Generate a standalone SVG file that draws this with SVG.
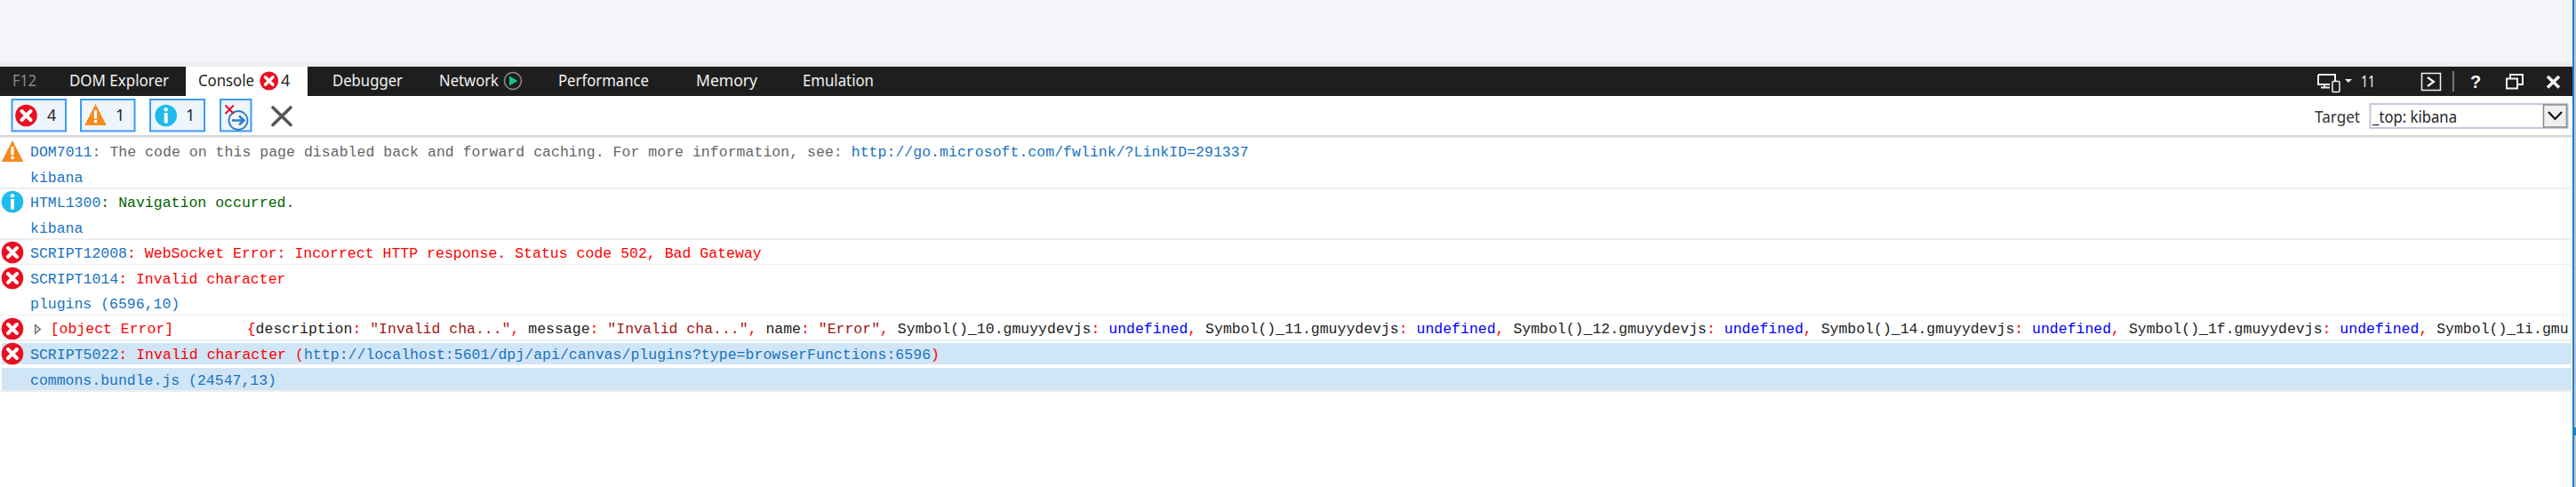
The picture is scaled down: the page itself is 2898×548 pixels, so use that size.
<svg xmlns="http://www.w3.org/2000/svg" width="2898" height="548" viewBox="0 0 2898 548">
<style>
.ui{font-family:"Noto Sans","Open Sans","Liberation Sans",sans-serif;font-size:18px}
.tab{fill:#f2f2f2}
.m{font-family:"Liberation Mono","DejaVu Sans Mono",monospace;font-size:16.49px;white-space:pre}
.ls{letter-spacing:.04px}
.ls2{letter-spacing:.02px}
.b{fill:#1a72c2}.g{fill:#666}.gr{fill:#006400}.r{fill:#f00}.d{fill:#a31515}.k{fill:#222}.u{fill:#00f}
.sep{fill:#eee}
.tb{fill:#eef5fc;stroke:#3d9bfa;stroke-width:2}
.w{fill:none;stroke:#f2f2f2}
</style>
<defs>
<g id="err"><circle r="12.3" fill="#e81123"/><path d="M-5-5 5 5M5-5-5 5" stroke="#fff" stroke-width="4" stroke-linecap="round"/></g>
<g id="warn"><path d="M0-12 12 11.5Q12 12 11 12H-11Q-12 12-12 11.5Z" fill="#f58a1f"/><rect x="-1.6" y="-5" width="3.2" height="9.5" fill="#fff"/><rect x="-1.6" y="6" width="3.2" height="3.2" fill="#fff"/></g>
<g id="info"><circle r="12.3" fill="#1ebbee"/><rect x="-2" y="-3" width="4" height="11.5" fill="#fff"/><circle cy="-6.8" r="2.2" fill="#fff"/></g>
</defs>
<rect width="2898" height="548" fill="#fff"/>
<g id="browser-top"><rect width="2898" height="70" fill="#f3f5fa"/><rect y="70" width="2898" height="5" fill="#eee"/></g>
<g id="tabbar">
<rect y="75" width="2898" height="33" fill="#1e1e1e"/>
<rect x="209" y="75" width="137" height="33" fill="#fff"/>
<text class="ui" x="14" y="97" fill="#8a8a8a" textLength="27" lengthAdjust="spacingAndGlyphs">F12</text>
<text class="ui tab" x="78" y="97" textLength="112" lengthAdjust="spacingAndGlyphs">DOM Explorer</text>
<text class="ui" x="223" y="97" fill="#222" textLength="63" lengthAdjust="spacingAndGlyphs">Console</text>
<use href="#err" transform="translate(302.7 91) scale(.85)"/>
<text class="ui" x="316" y="97" fill="#222">4</text>
<text class="ui tab" x="374" y="97" textLength="79" lengthAdjust="spacingAndGlyphs">Debugger</text>
<text class="ui tab" x="494" y="97" textLength="67" lengthAdjust="spacingAndGlyphs">Network</text>
<circle cx="577" cy="91" r="9.5" fill="none" stroke="#8a8a8a" stroke-width="1.6"/><path d="M573 85.500 582.500 91 573 96.500Z" fill="#16c784"/>
<text class="ui tab" x="628" y="97" textLength="102" lengthAdjust="spacingAndGlyphs">Performance</text>
<text class="ui tab" x="783" y="97" textLength="69" lengthAdjust="spacingAndGlyphs">Memory</text>
<text class="ui tab" x="903" y="97" textLength="80" lengthAdjust="spacingAndGlyphs">Emulation</text>
</g>
<g id="window-controls">
<path d="M2608 84H2627V92M2621 95H2608V84M2615 95V98M2611 98.500H2621" class="w" stroke-width="2"/>
<rect x="2624" y="91.500" width="8" height="12" rx="1" fill="#1e1e1e" stroke="#f2f2f2" stroke-width="1.500"/>
<path d="M2638 89H2646L2642 93Z" fill="#f2f2f2"/>
<text class="ui tab" x="2656" y="98" textLength="16" lengthAdjust="spacingAndGlyphs">11</text>
<rect x="2724.500" y="82.500" width="21" height="19" class="w" stroke-width="1.500"/>
<path d="M2731 87 2738 92 2731 97" class="w" stroke-width="2.200"/>
<rect x="2759" y="80" width="2" height="23" fill="#777"/>
<text x="2785" y="98.500" text-anchor="middle" style="font-family:'Liberation Sans',sans-serif;font-size:20px;font-weight:700" fill="#f2f2f2">?</text>
<path d="M2824 88V84H2838V95H2833M2820 88.500H2832V99.500H2820Z" class="w" stroke-width="2"/>
<path d="M2866 86 2879 98.500M2879 86 2866 98.500" stroke="#f2f2f2" stroke-width="3.600" fill="none"/>
</g>
<g id="filter-errors"><rect class="tb" x="13.500" y="112" width="60.500" height="35.500"/><use href="#err" transform="translate(29.500 130)"/><text class="ui" x="53" y="136" fill="#222">4</text></g>
<g id="filter-warnings"><rect class="tb" x="91" y="112" width="60.500" height="35.500"/><use href="#warn" transform="translate(107.500 129)"/><text class="ui" x="130" y="136" fill="#222">1</text></g>
<g id="filter-info"><rect class="tb" x="169" y="112" width="61" height="35.500"/><use href="#info" transform="translate(186.700 130)"/><text class="ui" x="209" y="136" fill="#222">1</text></g>
<g id="clear-on-navigate"><rect class="tb" x="248" y="112" width="34.500" height="35.500"/>
<circle cx="268" cy="135.500" r="10.500" fill="none" stroke="#2f7fc4" stroke-width="1.800"/>
<path d="M261 135.500H273M269 130.500 274.500 135.500 269 140.500" fill="none" stroke="#2f7fc4" stroke-width="2.600"/>
<path d="M253.500 118.500 263 128M263 118.500 253.500 128" stroke="#e81123" stroke-width="2"/></g>
<g id="clear-console"><path d="M307 121 327 140.500M327 121 307 140.500" stroke="#555" stroke-width="3.600" stroke-linecap="round"/></g>
<g id="target">
<text class="ui" x="2604" y="138" fill="#333" textLength="51" lengthAdjust="spacingAndGlyphs">Target</text>
<rect x="2666.500" y="117" width="222" height="27" fill="#fff" stroke="#c5c8dc" stroke-width="2"/>
<text class="ui" x="2669" y="138" fill="#222" textLength="95" lengthAdjust="spacingAndGlyphs">_top: kibana</text>
<rect x="2861.500" y="118" width="26" height="25" fill="#f0f0f0" stroke="#8a8a8a" stroke-width="1.500"/>
<path d="M2867 126 2874.500 134 2882 126" fill="none" stroke="#111" stroke-width="2.200"/>
</g>
<rect x="0" y="152" width="2894" height="2.500" fill="#d9d9d9"/>
<g id="row-dom7011">
<use href="#warn" transform="translate(14 170)"/>
<text class="m ls" x="34" y="176"><tspan class="b">DOM7011</tspan><tspan class="g">: The code on this page disabled back and forward caching. For more information, see: </tspan><tspan class="b">http://go.microsoft.com/fwlink/?LinkID=291337</tspan></text>
<text class="m b" x="34" y="205">kibana</text>
<rect class="sep" y="211" width="2893" height="2"/>
</g>
<g id="row-html1300">
<use href="#info" transform="translate(14 227)"/>
<text class="m ls2" x="34" y="233"><tspan class="b">HTML1300</tspan><tspan class="gr">: Navigation occurred.</tspan></text>
<text class="m b" x="34" y="262">kibana</text>
<rect class="sep" y="268" width="2893" height="2"/>
</g>
<g id="row-script12008">
<use href="#err" transform="translate(14 284)"/>
<text class="m ls2" x="34" y="290"><tspan class="b">SCRIPT12008</tspan><tspan class="r">: WebSocket Error: Incorrect HTTP response. Status code 502, Bad Gateway</tspan></text>
<rect class="sep" y="297" width="2893" height="1"/>
</g>
<g id="row-script1014">
<use href="#err" transform="translate(14 313)"/>
<text class="m ls2" x="34" y="319"><tspan class="b">SCRIPT1014</tspan><tspan class="r">: Invalid character</tspan></text>
<text class="m b" x="34" y="347">plugins (6596,10)</text>
<rect class="sep" y="354" width="2893" height="1"/>
</g>
<g id="row-object-error">
<use href="#err" transform="translate(14 370)"/>
<path d="M39.500 365.500 45.500 370.500 39.500 375.500Z" fill="#ddd" stroke="#666" stroke-width="1.200"/>
<text class="m r" x="56.700" y="375">[object Error]</text>
<text class="m" x="277.700" y="375"><tspan class="r">{</tspan><tspan class="k">description</tspan><tspan class="r">: </tspan><tspan class="d">"Invalid cha..."</tspan><tspan class="r">, </tspan><tspan class="k">message</tspan><tspan class="r">: </tspan><tspan class="d">"Invalid cha..."</tspan><tspan class="r">, </tspan><tspan class="k">name</tspan><tspan class="r">: </tspan><tspan class="d">"Error"</tspan><tspan class="r">, </tspan><tspan class="k">Symbol()_10.gmuyydevjs</tspan><tspan class="r">: </tspan><tspan class="u">undefined</tspan><tspan class="r">, </tspan><tspan class="k">Symbol()_11.gmuyydevjs</tspan><tspan class="r">: </tspan><tspan class="u">undefined</tspan><tspan class="r">, </tspan><tspan class="k">Symbol()_12.gmuyydevjs</tspan><tspan class="r">: </tspan><tspan class="u">undefined</tspan><tspan class="r">, </tspan><tspan class="k">Symbol()_14.gmuyydevjs</tspan><tspan class="r">: </tspan><tspan class="u">undefined</tspan><tspan class="r">, </tspan><tspan class="k">Symbol()_1f.gmuyydevjs</tspan><tspan class="r">: </tspan><tspan class="u">undefined</tspan><tspan class="r">, </tspan><tspan class="k">Symbol()_1i.gmu</tspan></text>
<rect class="sep" y="382" width="2893" height="2"/>
</g>
<g id="row-script5022">
<rect x="2" y="386" width="2891" height="24" fill="#d0e5f5"/>
<rect x="2" y="414" width="2891" height="25" fill="#d0e5f5"/>
<rect class="sep" y="439" width="2893" height="2"/>
<use href="#err" transform="translate(14 398)"/>
<text class="m ls" x="34" y="404"><tspan class="b">SCRIPT5022</tspan><tspan class="r">: Invalid character (</tspan><tspan class="b">http://localhost:5601/dpj/api/canvas/plugins?type=browserFunctions:6596</tspan><tspan class="r">)</tspan></text>
<text class="m b" x="34" y="433">commons.bundle.js (24547,13)</text>
</g>
<g id="window-edge">
<rect x="2894" width="2" height="548" fill="#1a7fd6"/>
<rect x="2896" width="2" height="548" fill="#c8c8c8"/>
<rect x="2896" y="481" width="2" height="9" fill="#1b8fa8"/>
</g>
</svg>
